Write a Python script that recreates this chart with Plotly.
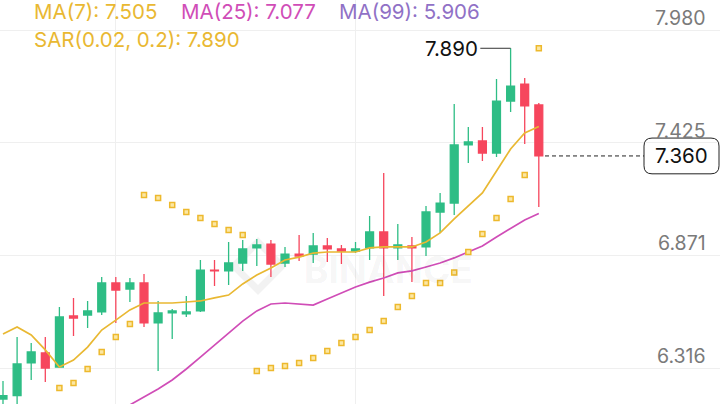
import plotly.graph_objects as go

# ---- data ----
opens  = [6.163, 6.180, 6.341, 6.390, 6.321, 6.572, 6.577, 6.592, 6.735, 6.705,
          6.735, 6.538, 6.587, 6.582, 6.597, 6.798, 6.794, 6.833, 6.907, 6.926,
          6.833, 6.877, 6.877, 6.917, 6.902, 6.892, 6.907, 6.986, 6.907, 6.917,
          6.912, 7.084, 7.128, 7.414, 7.434, 7.374, 7.630, 7.714, 7.611]
highs  = [6.252, 6.469, 6.439, 6.469, 6.616, 6.661, 6.646, 6.764, 6.764, 6.759,
          6.779, 6.646, 6.607, 6.670, 6.848, 6.848, 6.936, 6.946, 6.951, 6.946,
          6.912, 6.971, 6.981, 6.956, 6.922, 6.936, 7.064, 7.276, 7.025, 6.961,
          7.114, 7.178, 7.616, 7.502, 7.502, 7.739, 7.890, 7.744, 7.621]
lows   = [6.109, 6.134, 6.257, 6.247, 6.316, 6.474, 6.513, 6.577, 6.538, 6.641,
          6.518, 6.301, 6.459, 6.567, 6.592, 6.720, 6.725, 6.794, 6.818, 6.764,
          6.813, 6.843, 6.833, 6.838, 6.828, 6.882, 6.848, 6.670, 6.848, 6.739,
          6.867, 6.981, 7.069, 7.325, 7.335, 7.355, 7.576, 7.419, 7.109]
closes = [6.180, 6.336, 6.395, 6.316, 6.567, 6.562, 6.597, 6.735, 6.700, 6.735,
          6.538, 6.587, 6.597, 6.592, 6.798, 6.794, 6.833, 6.902, 6.922, 6.828,
          6.877, 6.867, 6.917, 6.902, 6.892, 6.902, 6.986, 6.907, 6.922, 6.907,
          7.084, 7.128, 7.414, 7.429, 7.374, 7.630, 7.704, 7.606, 7.360]
ma7    = [6.483, 6.518, 6.479, 6.405, 6.321, 6.355, 6.419, 6.503, 6.552, 6.602,
          6.636, 6.636, 6.636, 6.641, 6.646, 6.661, 6.675, 6.730, 6.774, 6.808,
          6.848, 6.862, 6.882, 6.887, 6.887, 6.887, 6.907, 6.912, 6.912, 6.912,
          6.936, 6.981, 7.050, 7.114, 7.178, 7.286, 7.394, 7.473, 7.505]
ma25   = [None, None, None, None, None, None, None, None, 6.095, 6.134,
          6.173, 6.213, 6.257, 6.311, 6.370, 6.429, 6.488, 6.547, 6.597, 6.631,
          6.636, 6.631, 6.626, 6.656, 6.685, 6.715, 6.739, 6.759, 6.784, 6.794,
          6.813, 6.833, 6.858, 6.887, 6.917, 6.961, 7.005, 7.045, 7.077]
sar    = [None, None, None, None, 6.218, 6.242, 6.311, 6.395, 6.469, 6.533,
          7.168, 7.153, 7.118, 7.084, 7.054, 7.025, 6.995, 6.971, 6.301, 6.316,
          6.326, 6.341, 6.365, 6.400, 6.439, 6.469, 6.503, 6.547, 6.616, 6.670,
          6.735, 6.735, 6.786, 6.887, 6.976, 7.054, 7.148, 7.266, 7.890]
ma99_last = 5.906
price_ticks = [7.980, 7.425, 6.871, 6.316]
time_grid = [8, 25]

idx = list(range(len(closes)))

GREEN = "#2EBD85"
RED = "#F6465D"
MA7C = "#E9B832"
MA25C = "#D04DB7"
MA99C = "#9071C6"
FONT = "Inter"
LEG = 20.5

fig = go.Figure()
fig.add_trace(go.Candlestick(
    x=idx, open=opens, high=highs, low=lows, close=closes,
    increasing=dict(line=dict(color=GREEN, width=1.3), fillcolor=GREEN),
    decreasing=dict(line=dict(color=RED, width=1.3), fillcolor=RED),
    whiskerwidth=0, showlegend=False, hoverinfo="skip"))
fig.add_trace(go.Scatter(x=idx, y=ma7, mode="lines",
                         line=dict(color=MA7C, width=1.7), showlegend=False, hoverinfo="skip"))
fig.add_trace(go.Scatter(x=idx, y=ma25, mode="lines",
                         line=dict(color=MA25C, width=1.7), showlegend=False, hoverinfo="skip"))
fig.add_trace(go.Scatter(x=idx, y=sar, mode="markers",
                         marker=dict(symbol="square", size=5, color="#FBE7A3",
                                     line=dict(color="#EDB92D", width=1.5)),
                         showlegend=False, hoverinfo="skip"))

ann = []
# legend texts
top_y = 1 - 11/404
ann.append(dict(xref="paper", yref="paper", x=32/720, y=top_y, xanchor="left", yanchor="middle",
                showarrow=False, text=f"MA(7): {ma7[-1]:.3f}", font=dict(family=FONT, size=LEG, color=MA7C)))
ann.append(dict(xref="paper", yref="paper", x=179/720, y=top_y, xanchor="left", yanchor="middle",
                showarrow=False, text=f"MA(25): {ma25[-1]:.3f}", font=dict(family=FONT, size=LEG, color=MA25C)))
ann.append(dict(xref="paper", yref="paper", x=337/720, y=top_y, xanchor="left", yanchor="middle",
                showarrow=False, text=f"MA(99): {ma99_last:.3f}", font=dict(family=FONT, size=LEG, color=MA99C)))
ann.append(dict(xref="paper", yref="paper", x=32/720, y=1-40/404, xanchor="left", yanchor="middle",
                showarrow=False, text=f"SAR(0.02, 0.2): {sar[-1]:.3f}", font=dict(family=FONT, size=LEG, color=MA7C)))
# price axis labels (above the grid lines)
for p in price_ticks:
    ann.append(dict(xref="paper", yref="y", x=708/720, y=p, xanchor="right", yanchor="bottom",
                    yshift=-2, showarrow=False, text=f"{p:.3f}",
                    font=dict(family=FONT, size=19.5, color="#7A7A7A")))
# highest price label
hi_i = max(idx, key=lambda i: highs[i])
hi_v = highs[hi_i]
ann.append(dict(xref="x", yref="y", x=hi_i - 2.2, y=hi_v, xanchor="right", yanchor="middle",
                showarrow=False, text=f"{hi_v:.3f}", font=dict(family=FONT, size=20.5, color="#111111")))
# current price
last = closes[-1]
ann.append(dict(xref="paper", yref="y", x=681.5/720, y=last, xanchor="center", yanchor="middle",
                showarrow=False, text=f"{last:.3f}", font=dict(family=FONT, size=20.5, color="#111111")))
# watermark
ann.append(dict(xref="paper", yref="paper", x=388/720, y=1-269/404, xanchor="center", yanchor="middle",
                showarrow=False, text="<b>BINANCE</b>", font=dict(family=FONT, size=37, color="rgba(0,0,0,0.05)")))

shapes = []
# highest price leader line
shapes.append(dict(type="line", xref="x", yref="y", x0=hi_i - 2.15, x1=hi_i, y0=hi_v, y1=hi_v,
                   line=dict(color="#333333", width=1)))
# current price dashed line
shapes.append(dict(type="line", xref="paper", yref="y", x0=545/720, x1=644/720, y0=last, y1=last,
                   line=dict(color="#222222", width=1, dash="4px,3px")))
# rounded box around current price
x0, x1 = 644/720, 719/720
yt, yb = last + 0.088, last - 0.088
rx, ry = 8/720, 8*0.004923
path = (f"M {x0+rx},{yt} L {x1-rx},{yt} Q {x1},{yt} {x1},{yt-ry} L {x1},{yb+ry} "
        f"Q {x1},{yb} {x1-rx},{yb} L {x0+rx},{yb} Q {x0},{yb} {x0},{yb+ry} "
        f"L {x0},{yt-ry} Q {x0},{yt} {x0+rx},{yt} Z")
shapes.append(dict(type="path", xref="paper", yref="y", path=path,
                   line=dict(color="#222222", width=1), fillcolor="rgba(255,255,255,0)", layer="above"))
# watermark logo (faint diamond)
cx, cy, r = 258/720, 1-266/404, 24/720
ry2 = 24/404
shapes.append(dict(type="path", xref="paper", yref="paper",
                   path=f"M {cx},{cy+ry2} L {cx+r},{cy} L {cx},{cy-ry2} L {cx-r},{cy} Z",
                   line=dict(color="rgba(0,0,0,0.05)", width=7), fillcolor="rgba(0,0,0,0)", layer="below"))

fig.update_layout(
    width=720, height=404, margin=dict(l=0, r=0, t=0, b=0),
    paper_bgcolor="white", plot_bgcolor="white",
    boxgap=0.2,
    xaxis=dict(range=[-0.213, 50.85], tickvals=time_grid, showticklabels=False, showgrid=True,
               gridcolor="#EFEFEF", gridwidth=1, zeroline=False, showline=False,
               rangeslider=dict(visible=False), fixedrange=True),
    yaxis=dict(range=[6.1388, 8.1277], tickvals=price_ticks, showticklabels=False, showgrid=True,
               gridcolor="#EFEFEF", gridwidth=1, zeroline=False, showline=False, fixedrange=True),
    annotations=ann, shapes=shapes, showlegend=False,
)

fig.write_html("out.html", config={"displayModeBar": False},
               post_script="document.body.style.margin='0';")
